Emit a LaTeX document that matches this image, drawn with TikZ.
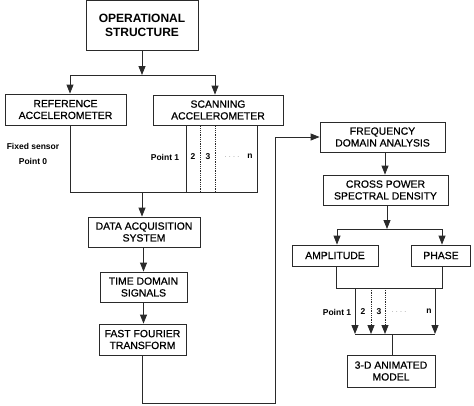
\documentclass[tikz,border=0pt]{standalone}
\usepackage{fontspec}
\setmainfont{Liberation Sans}
\newfontfamily\boxfont[FakeBold=0.7]{Liberation Sans}
\usetikzlibrary{arrows.meta,positioning,calc}
\definecolor{Line}{HTML}{2A2A2A}
\definecolor{Dots}{HTML}{8A8A8A}

\begin{document}
\begin{tikzpicture}[
 x=1pt,y=-1pt,
 box/.style={draw=Line,line width=0.8pt,inner sep=1pt,align=center,font=\boxfont\fontsize{10.4}{11.8}\selectfont},
 a/.style={-{Triangle[length=9pt,width=7pt]},line width=0.8pt,draw=Line},
 ln/.style={line width=0.8pt,draw=Line},
 dt/.style={line width=0.8pt,draw=Line,densely dotted},
 lbl/.style={font=\fontsize{8.5}{10}\bfseries\selectfont,inner sep=0pt}
]
\useasboundingbox (0,0) rectangle (474,405);
% left column
\node[box,font=\fontsize{12}{14.3}\bfseries\selectfont,minimum width=112pt,minimum height=49.5pt] (ops) at (142,25.25) {OPERATIONAL\\STRUCTURE};
\node[box,minimum width=121pt,minimum height=31pt] (ref) at (65.5,109.5) {REFERENCE\\ACCELEROMETER};
\node[box,minimum width=130pt,minimum height=30pt] (scan) at (218,110) {SCANNING\\ACCELEROMETER};
\node[box,minimum width=112pt,minimum height=30pt] (daq) at (144,232) {DATA ACQUISITION\\SYSTEM};
\node[box,minimum width=87pt,minimum height=30pt] (tds) at (143.5,287) {TIME DOMAIN\\SIGNALS};
\node[box,minimum width=87pt,minimum height=31pt] (fft) at (142.5,339.5) {FAST FOURIER\\TRANSFORM};
% right column
\node[box,minimum width=125pt,minimum height=30pt] (fda) at (382.5,137) {FREQUENCY\\DOMAIN ANALYSIS};
\node[box,minimum width=125pt,minimum height=30pt] (cpsd) at (385.5,190) {CROSS POWER\\SPECTRAL DENSITY};
\node[box,minimum width=86pt,minimum height=21pt] (amp) at (335,255.5) {AMPLITUDE};
\node[box,minimum width=59pt,minimum height=21pt] (pha) at (441,255.5) {PHASE};
\node[box,minimum width=88pt,minimum height=32pt] (model) at (391,371) {3-D ANIMATED\\MODEL};
% labels
\node[lbl] (fix) at (33,146) {Fixed sensor};
\node[lbl] (pt0) at (33,161) {Point 0};
\node[lbl] (s1) at (165,157) {Point 1};
\node[lbl] (s2) at (193,157) {2};
\node[lbl] (s3) at (208,157) {3};
\node[lbl,text=Dots,font=\fontsize{7}{8}\selectfont] (sd) at (232,157) {.\,\,.\,\,.\,\,.};
\node[lbl] (sn) at (250,156) {n};
\node[lbl] (r1) at (337,312) {Point 1};
\node[lbl] (r2) at (363,312) {2};
\node[lbl] (r3) at (379,312) {3};
\node[lbl,text=Dots,font=\fontsize{7}{8}\selectfont] (rd) at (399,312) {.\,\,.\,\,.\,\,.};
\node[lbl] (rn) at (429,311) {n};
% fork below operational structure
\coordinate (ft) at (142,75);
\coordinate (fl) at (70,75);
\coordinate (fr) at (215,75);
\draw[a] (ops) -- (ft);
\draw[ln] (fl) -- (fr);
\draw[a] (fl) -- (fl |- ref.north);
\draw[a] (fr) -- (fr |- scan.north);
% sensor lines
\coordinate (q0) at (70,192);
\coordinate (p1) at (186,192);
\coordinate (p2) at (200,192);
\coordinate (p3) at (215,192);
\coordinate (pn) at (257,192);
\coordinate (mid) at (142,192);
\draw[ln] (q0 |- ref.south) -- (q0) -- (pn) -- (pn |- scan.south);
\draw[ln] (p1) -- (p1 |- scan.south);
\draw[dt] (p2) -- (p2 |- scan.south);
\draw[dt] (p3) -- (p3 |- scan.south);
\draw[a] (mid) -- (mid |- daq.north);
\draw[a] (daq.south -| tds.north) -- (tds.north);
\draw[a] (tds.south) -- (tds.south |- fft.north);
% route to frequency domain
\coordinate (c1) at (142.5,403);
\coordinate (c2) at (275,403);
\draw[a] (fft.south) -- (c1) -- (c2) -- (c2 |- fda.west) -- (fda.west);
\draw[a] (fda.south -| 385,0) -- (385,0 |- cpsd.north);
% fork below cross power
\coordinate (g) at (387,229);
\coordinate (gl) at (337,229);
\coordinate (gr) at (442,229);
\draw[a] (cpsd.south -| g) -- (g);
\draw[ln] (gl) -- (gr);
\draw[a] (gl) -- (gl |- amp.north);
\draw[a] (gr) -- (gr |- pha.north);
% points to model
\coordinate (hl) at (336,288);
\coordinate (hr) at (442,288);
\coordinate (k1) at (355,288);
\coordinate (k2) at (371,288);
\coordinate (k3) at (385,288);
\coordinate (kn) at (435,288);
\coordinate (mb) at (392,334);
\draw[ln] (hl |- amp.south) -- (hl) -- (hr) -- (hr |- pha.south);
\draw[a] (k1) -- (k1 |- mb);
\draw[a,densely dotted] (k2) -- (k2 |- mb);
\draw[a,densely dotted] (k3) -- (k3 |- mb);
\draw[a] (kn) -- (kn |- mb);
\draw[ln] (k1 |- mb) -- (kn |- mb);
\draw[ln] (mb) -- (mb |- model.north);
\end{tikzpicture}
\end{document}
